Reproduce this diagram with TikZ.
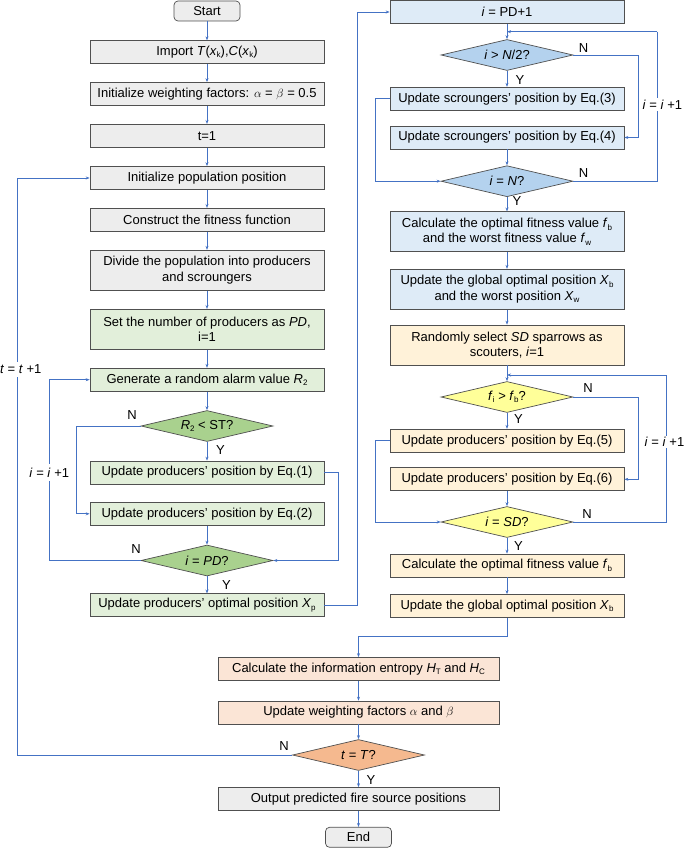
\documentclass[tikz,border=0pt]{standalone}
\usepackage{fontspec}
\setmainfont{Liberation Sans}
\usetikzlibrary{arrows.meta,shapes.geometric}
\definecolor{lc}{HTML}{4472C4}
\definecolor{bd}{HTML}{505050}
\definecolor{grayf}{HTML}{EDEDED}
\definecolor{greenf}{HTML}{E2EFDA}
\definecolor{greend}{HTML}{A9D18E}
\definecolor{bluef}{HTML}{DEEBF7}
\definecolor{blued}{HTML}{B4D2EE}
\definecolor{yelf}{HTML}{FFF2D9}
\definecolor{yeld}{HTML}{FFFF99}
\definecolor{oraf}{HTML}{FBE5D6}
\definecolor{orad}{HTML}{F5B98F}
\newcommand{\sbs}[1]{\raisebox{-0.35ex}{\fontsize{8}{8}\selectfont #1}}
\tikzset{
  every node/.style={font=\fontsize{13}{15.3}\selectfont, inner sep=0pt},
  box/.style={draw=bd, line width=0.7pt, rectangle, minimum width=234pt, minimum height=23pt, align=center},
  tall/.style={box, minimum height=40pt},
  wide/.style={box, minimum width=281pt},
  term/.style={draw=bd, line width=0.7pt, rectangle, rounded corners=4pt, minimum width=66pt, minimum height=20pt, fill=grayf},
  dia/.style={draw=bd, line width=0.7pt, diamond, aspect=4.25, minimum width=132pt, minimum height=31pt, inner sep=0pt},
  gb/.style={box, fill=grayf}, gr/.style={box, fill=greenf}, bl/.style={box, fill=bluef},
  ye/.style={box, fill=yelf}, or/.style={box, fill=oraf},
  con/.style={draw=lc, line width=0.8pt, -{Stealth[length=4pt,width=3pt]}},
  lin/.style={draw=lc, line width=0.8pt},
  lab/.style={font=\fontsize{13}{15}\selectfont},
  ilab/.style={font=\fontsize{13}{15}\selectfont, fill=white, inner sep=1.5pt},
}
\begin{document}
\begin{tikzpicture}[x=1pt,y=-1pt]
\useasboundingbox (0,0) rectangle (685,848);
% left column
\node[term] (start) at (207,11) {Start};
\node[gb] (import) at (207,52.2) {Import \textit{T}(\textit{x}\sbs{k}),\textit{C}(\textit{x}\sbs{k})};
\node[gb] (initw) at (207,94) {Initialize weighting factors: $\alpha$ = $\beta$ = 0.5};
\node[gb] (t1) at (207,135.8) {t=1};
\node[gb] (initpop) at (207,178) {Initialize population position};
\node[gb] (constr) at (207,219.8) {Construct the fitness function};
\node[gb,tall] (divide) at (207,270.2) {Divide the population into producers\\and scroungers};
\node[gr,tall] (setpd) at (207,329.3) {Set the number of producers as \textit{PD},\\i=1};
\node[gr] (gen) at (207,379.7) {Generate a random alarm value \textit{R}\sbs{2}};
\node[dia, fill=greend] (d1) at (207,426) {\textit{R}\sbs{2} < ST?};
\node[gr] (eq1) at (207,472.5) {Update producers’ position by Eq.(1)};
\node[gr] (eq2) at (207,513.8) {Update producers’ position by Eq.(2)};
\node[dia, fill=greend] (d2) at (207,560.5) {\textit{i} = \textit{PD}?};
\node[gr] (xp) at (207,605.3) {Update producers’ optimal position \textit{X}\sbs{p}};
% right column
\node[bl] (ipd) at (507,12) {\textit{i} = PD+1};
\node[dia, fill=blued] (d3) at (507,55) {\textit{i} > \textit{N}/2?};
\node[bl] (eq3) at (507,98.7) {Update scroungers’ position by Eq.(3)};
\node[bl] (eq4) at (507,137.5) {Update scroungers’ position by Eq.(4)};
\node[dia, fill=blued] (d4) at (507,181.2) {\textit{i} = \textit{N}?};
\node[bl,tall] (calcfw) at (507,231.8) {Calculate the optimal fitness value \textit{f}\sbs{b}\\and the worst fitness value \textit{f}\sbs{w}};
\node[bl,tall] (updxw) at (507,289.2) {Update the global optimal position \textit{X}\sbs{b}\\and the worst position \textit{X}\sbs{w}};
\node[ye,tall] (rand) at (507,345) {Randomly select \textit{SD} sparrows as\\scouters, \textit{i}=1};
\node[dia, fill=yeld] (d5) at (507,397) {\textit{f}\sbs{i} > \textit{f}\sbs{b}?};
\node[ye] (eq5) at (507,440.7) {Update producers’ position by Eq.(5)};
\node[ye] (eq6) at (507,479.3) {Update producers’ position by Eq.(6)};
\node[dia, fill=yeld] (d6) at (507,522) {\textit{i} = \textit{SD}?};
\node[ye] (calcfb) at (507,565.5) {Calculate the optimal fitness value \textit{f}\sbs{b}};
\node[ye] (updxb) at (507,606) {Update the global optimal position \textit{X}\sbs{b}};
% bottom
\node[or,wide] (entropy) at (358.5,669) {Calculate the information entropy \textit{H}\sbs{T} and \textit{H}\sbs{C}};
\node[or,wide] (weights) at (358.5,712.5) {Update weighting factors $\alpha$ and $\beta$};
\node[dia, fill=orad] (d7) at (358.5,755) {\textit{t} = \textit{T}?};
\node[gb,wide] (output) at (358.5,799) {Output predicted fire source positions};
\node[term] (end) at (358.5,837.3) {End};
% coordinates
\coordinate (cA) at (17.7,400);
\coordinate (cB) at (49.3,480);
\coordinate (cC) at (76.3,480);
\coordinate (cD) at (338.3,520);
\coordinate (cE) at (357.3,300);
\coordinate (cF) at (638.3,100);
\coordinate (cG) at (375.7,140);
\coordinate (cH) at (657.3,100);
\coordinate (cI) at (507,31.7);
\coordinate (cJ) at (638.3,440);
\coordinate (cK) at (375.7,480);
\coordinate (cL) at (666,440);
\coordinate (cM) at (507,375);
\coordinate (cN) at (400,636.7);
% straight arrows
\foreach \a/\b in {start/import, import/initw, initw/t1, t1/initpop, initpop/constr, constr/divide, divide/setpd, setpd/gen, gen/d1, d1/eq1, eq2/d2, d2/xp,
  d3/eq3, eq4/d4, d4/calcfw, calcfw/updxw, updxw/rand, rand/d5, d5/eq5, eq6/d6, d6/calcfb, calcfb/updxb,
  entropy/weights, weights/d7, d7/output, output/end}
  \draw[con] (\a) -- (\b);
\draw[con] (ipd) -- (d3);
% left loops
\draw[con] (d1.west) -- (cC |- d1.west) -- (cC |- eq2.west) -- (eq2.west);
\draw[con] (eq1.east) -- (cD |- eq1.east) -- (cD |- d2.east) -- (d2.east);
\draw[lin] (d2.west) -- (cB |- d2.west) -- (cB |- gen.west)
  node[pos=0.486, ilab, inner ysep=4pt] (ilab1) {\textit{i} = \textit{i} +1};
\draw[con] (cB |- gen.west) -- (gen.west);
\draw[con] (xp.east) -- (cE |- xp.east) -- (cE |- ipd.west) -- (ipd.west);
% right loops
\draw[con] (d3.east) -- (cF |- d3.east) -- (cF |- eq4.east) -- (eq4.east);
\draw[con] (eq3.west) -- (cG |- eq3.west) -- (cG |- d4.west) -- (d4.west);
\draw[lin] (d4.east) -- (cH |- d4.east) -- (cH |- cI)
  node[pos=0.514, ilab, xshift=5pt] (ilab2) {\textit{i} = \textit{i} +1};
\draw[con] (cH |- cI) -- (cI);
\draw[con] (d5.east) -- (cJ |- d5.east) -- (cJ |- eq6.east) -- (eq6.east);
\draw[con] (eq5.west) -- (cK |- eq5.west) -- (cK |- d6.west) -- (d6.west);
\draw[lin] (d6.east) -- (cL |- d6.east) -- (cL |- cM)
  node[pos=0.546, ilab, inner xsep=0.5pt, xshift=-1.5pt] (ilab3) {\textit{i} = \textit{i} +1};
\draw[con] (cL |- cM) -- (cM);
% to bottom
\draw[con] (updxb.south) -- (updxb.south |- cN) -- (entropy.north |- cN) -- (entropy.north);
% outer loop
\draw[lin] (d7.west) -- (cA |- d7.west) -- (cA |- initpop.west)
  node[pos=0.668, ilab, xshift=3pt, inner ysep=3pt] (tlab) {\textit{t} = \textit{t} +1};
\draw[con] (cA |- initpop.west) -- (initpop.west);
% Y / N labels
\node[lab] (n1) at (132,415.5) {N};
\node[lab] (y1) at (220.5,450.5) {Y};
\node[lab] (n2) at (136,549.5) {N};
\node[lab] (y2) at (226.5,585) {Y};
\node[lab] (n3) at (583.5,48) {N};
\node[lab] (y3) at (520,80) {Y};
\node[lab] (n4) at (583.5,173.5) {N};
\node[lab] (y4) at (517,201.5) {Y};
\node[lab] (n5) at (588,388.5) {N};
\node[lab] (y5) at (518.5,419) {Y};
\node[lab] (n6) at (587,514) {N};
\node[lab] (y6) at (518.5,546) {Y};
\node[lab] (n7) at (284,746) {N};
\node[lab] (y7) at (371,780) {Y};
\end{tikzpicture}
\end{document}
